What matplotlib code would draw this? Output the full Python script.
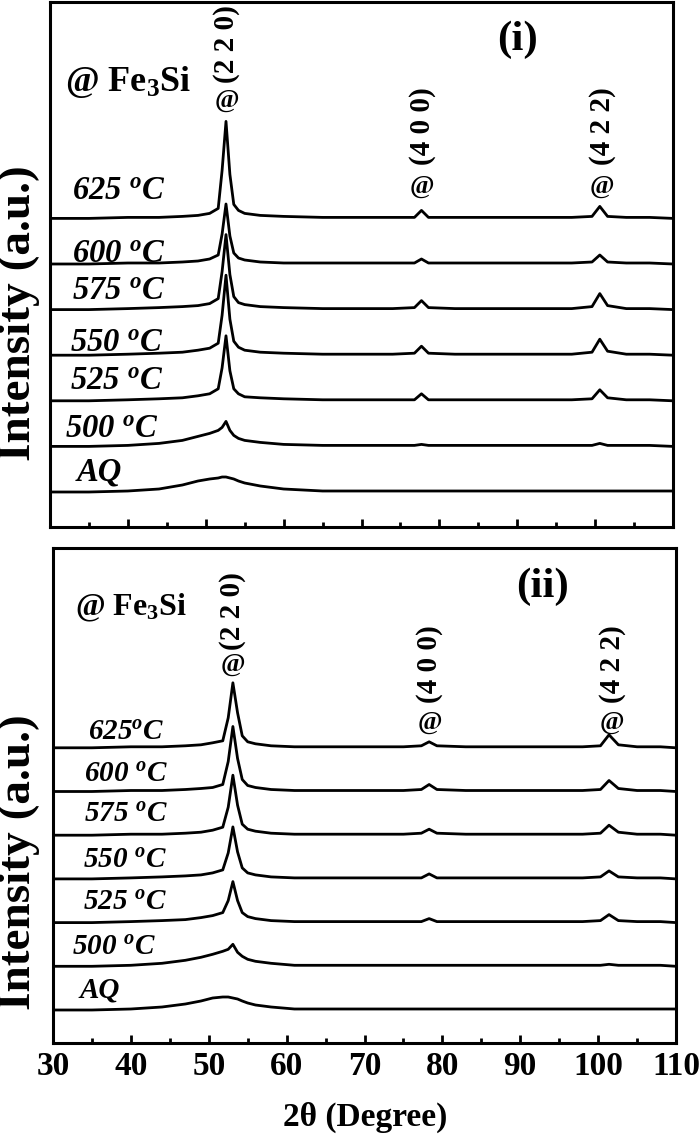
import matplotlib
matplotlib.use('Agg')
import matplotlib.pyplot as plt
from matplotlib.ticker import MultipleLocator

plt.rcParams['font.family'] = ['Liberation Serif', 'DejaVu Serif']
plt.rcParams['font.weight'] = 'bold'
plt.rcParams['mathtext.fontset'] = 'custom'
plt.rcParams['mathtext.rm'] = 'Liberation Serif:bold'
plt.rcParams['mathtext.it'] = 'Liberation Serif:italic:bold'
plt.rcParams['mathtext.bf'] = 'Liberation Serif:bold'

# sample names, bottom curve first
samples = ['AQ', '500 $^o$C', '525 $^o$C', '550 $^o$C', '575 $^o$C', '600 $^o$C', '625 $^o$C']
samples_ii = ['AQ', '500 $^o$C', '525 $^o$C', '550 $^o$C', '575 $^o$C', '600 $^o$C', '625$^o$C']

# panel (i): 2theta and intensity (a.u., above each curve's own baseline)
tt_i = [30, 35, 40, 44, 47, 49, 50.5, 51.6, 52.1, 52.6, 53.1, 53.6, 54.2, 55, 57, 60, 65, 70,
        74, 76.8, 77.7, 78.6, 82, 86, 90, 94, 97, 99.6, 100.6, 101.6, 104, 107, 110]
int_i = {
    'AQ':  [0, 0, 1, 3, 7, 11, 13, 14, 15, 15, 14, 13, 11, 9, 6, 3, 1, 1, 1, 1, 1, 1, 1, 1, 1, 1, 1, 1, 1, 1, 1, 1, 1],
    '500': [0, 0, 1, 3, 6, 10, 13, 16, 19, 25, 16, 11, 8, 6, 4, 2, 1, 1, 1, 1, 2, 1, 1, 1, 1, 1, 1, 1, 3, 1, 1, 1, 0],
    '525': [0, 0, 1, 2, 3, 5, 7, 12, 33, 65, 30, 12, 7, 4, 3, 2, 1, 1, 1, 1, 7, 1, 1, 1, 1, 1, 1, 2, 11, 3, 1, 1, 0],
    '550': [0, 0, 1, 2, 3, 5, 7, 12, 40, 80, 36, 14, 8, 5, 3, 2, 1, 1, 1, 2, 9, 2, 1, 1, 1, 1, 1, 3, 16, 4, 1, 1, 0],
    '575': [0, 0, 1, 2, 3, 4, 6, 11, 38, 75, 35, 13, 7, 5, 3, 2, 1, 1, 1, 2, 9, 2, 1, 1, 1, 1, 1, 3, 16, 4, 1, 1, 0],
    '600': [0, 0, 1, 1, 2, 3, 5, 9, 30, 60, 28, 11, 6, 4, 2, 1, 1, 1, 1, 1, 5, 1, 1, 1, 1, 1, 1, 2, 9, 2, 1, 1, 0],
    '625': [0, 0, 1, 1, 2, 3, 5, 10, 48, 97, 44, 14, 8, 5, 3, 2, 1, 1, 1, 1, 8, 1, 1, 1, 1, 1, 1, 2, 12, 2, 1, 1, 0],
}

# panel (ii)
tt_ii = [30, 35, 40, 44, 47, 49, 50.5, 51.8, 52.5, 53.1, 53.7, 54.3, 55, 56, 58, 61, 65, 70,
         75, 77.3, 78.3, 79.3, 83, 87, 91, 95, 98, 100.3, 101.4, 102.6, 105, 108, 110]
int_ii = {
    'AQ':  [0, 0, 1, 3, 6, 9, 12, 13, 13, 12, 11, 9, 7, 5, 3, 1, 1, 1, 1, 1, 1, 1, 1, 1, 1, 1, 1, 1, 1, 1, 1, 1, 1],
    '500': [0, 0, 1, 3, 6, 9, 12, 15, 17, 22, 14, 10, 7, 5, 3, 1, 1, 1, 1, 1, 1, 1, 1, 1, 1, 1, 1, 1, 2, 1, 1, 1, 0],
    '525': [0, 0, 1, 2, 3, 5, 7, 10, 22, 41, 22, 10, 6, 4, 2, 1, 1, 1, 1, 1, 4, 1, 1, 1, 1, 1, 1, 2, 8, 2, 1, 1, 0],
    '550': [0, 0, 1, 2, 3, 4, 6, 9, 26, 52, 27, 11, 6, 4, 2, 1, 1, 1, 1, 1, 5, 1, 1, 1, 1, 1, 1, 2, 8, 2, 1, 1, 0],
    '575': [0, 0, 1, 1, 2, 3, 5, 8, 28, 60, 30, 11, 6, 4, 2, 1, 1, 1, 1, 2, 6, 2, 1, 1, 1, 1, 1, 2, 10, 3, 1, 1, 0],
    '600': [0, 0, 1, 1, 2, 3, 4, 7, 30, 65, 33, 12, 6, 4, 2, 1, 1, 1, 1, 2, 7, 2, 1, 1, 1, 1, 1, 2, 11, 3, 1, 1, 0],
    '625': [0, 0, 1, 1, 2, 3, 5, 7, 30, 65, 35, 12, 6, 4, 2, 1, 1, 1, 1, 2, 6, 2, 1, 1, 1, 1, 1, 2, 13, 3, 1, 1, 0],
}

# Fe3Si reflections (2theta) marked in each panel
hkl = ['(2 2 0)', '(4 0 0)', '(4 2 2)']
peaks_i = [52.7, 77.8, 100.9]
peaks_ii = [53.1, 78.4, 101.8]

fig = plt.figure(figsize=(7, 11.39), dpi=100)
ax1 = fig.add_axes([50/700, 1 - 527/1139, 623/700, 525/1139])
ax2 = fig.add_axes([53/700, 1 - 1043/1139, 623/700, 495/1139])


def draw_panel(ax, tt, data, names, step, ylim, lab_x, lab_y, lab_size):
    for i, key in enumerate(data):
        y = [v + i * step for v in data[key]]
        ax.plot(tt, y, color='black', lw=2.0, solid_joinstyle='round')
        ax.text(lab_x[i], lab_y[i], names[i], fontsize=lab_size, style='italic',
                fontweight='bold', ha='left', va='baseline')
    ax.set_xlim(30, 110)
    ax.set_ylim(*ylim)
    ax.set_yticks([])
    ax.xaxis.set_major_locator(MultipleLocator(10))
    ax.xaxis.set_minor_locator(MultipleLocator(5))
    ax.tick_params(axis='x', which='major', direction='in', length=6, width=2,
                   labelsize=24, pad=6)
    ax.tick_params(axis='x', which='minor', direction='in', length=3.5, width=2)
    ax.tick_params(top=False)
    for s in ax.spines.values():
        s.set_linewidth(2.2)


draw_panel(ax1, tt_i, int_i, samples, 45.6, (-35, 490),
           [33.4, 31.9, 32.6, 32.6, 32.8, 32.8, 32.8],
           [12, 54, 102, 140, 192, 229, 292], 23.5)
draw_panel(ax2, tt_ii, int_ii, samples_ii, 43.7, (-33, 462),
           [33.4, 32.4, 33.9, 33.9, 34.0, 34.0, 34.5],
           [13, 55, 100, 142, 188, 228, 270], 21)
ax1.tick_params(labelbottom=False)

# peak markers
for ax, pk, at_y, txt_y in [(ax1, peaks_i, [392, 305, 305], [409, 327, 327]),
                            (ax2, peaks_ii, [345, 287, 287], [360, 307, 307])]:
    for p, h, ay, ty in zip(pk, hkl, at_y, txt_y):
        ax.text(p, ay, '@', fontsize=19, ha='center', va='center')
        ax.text(p, ty, h, fontsize=21, rotation=90, ha='center', va='bottom')

ax1.text(0.024, 0.848, '@ Fe$_3$Si', transform=ax1.transAxes, fontsize=26, va='center')
ax2.text(0.035, 0.879, '@ Fe$_3$Si', transform=ax2.transAxes, fontsize=23, va='center')
ax1.text(0.751, 0.928, '(i)', transform=ax1.transAxes, fontsize=31, ha='center', va='center')
ax2.text(0.786, 0.921, '(ii)', transform=ax2.transAxes, fontsize=31, ha='center', va='center')

fig.text(19/700, 1 - 313/1139, 'Intensity (a.u.)', rotation=90, fontsize=34,
         ha='center', va='center')
fig.text(19/700, 1 - 862/1139, 'Intensity (a.u.)', rotation=90, fontsize=34,
         ha='center', va='center')
fig.text(365/700, 1 - 1117/1139, '2θ (Degree)', fontsize=24, ha='center', va='center')

fig.savefig('out.png', dpi=100)
